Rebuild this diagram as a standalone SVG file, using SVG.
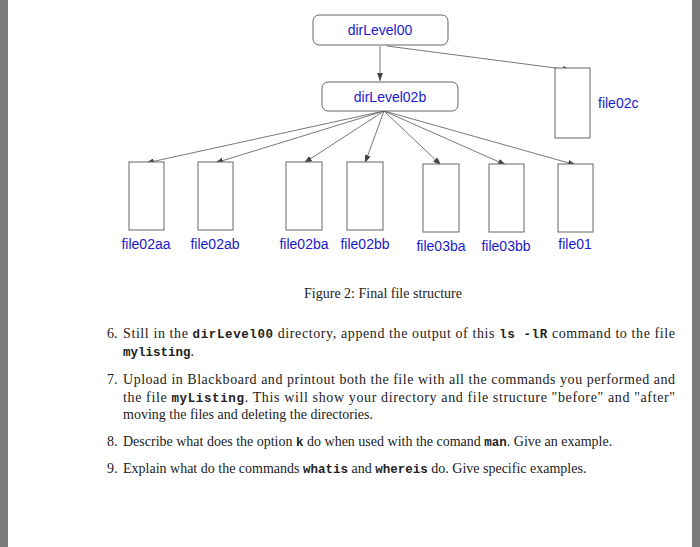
<svg xmlns="http://www.w3.org/2000/svg" width="700" height="547" viewBox="0 0 700 547">
<defs>
<style>
.n{fill:#fff;stroke:#666;stroke-width:1}
.l{font-family:"Liberation Sans",Arial,sans-serif;font-size:14px;fill:#1a1acc}
.c line{stroke:#555;stroke-width:0.8;marker-end:url(#a)}
.t{font-family:"Liberation Serif","Times New Roman",serif;font-size:14px;fill:#222}
.m{font-family:"Liberation Mono",monospace;font-size:12.5px;font-weight:bold}
</style>
<marker id="a" markerWidth="8" markerHeight="6" refX="8" refY="3" orient="auto" markerUnits="userSpaceOnUse"><path d="M0,0 L8,3 L0,6 z" fill="#444"/></marker>
</defs>
<rect width="700" height="547" fill="#fff"/>
<rect x="0" y="0" width="8" height="547" fill="#7a7a7a"/>
<rect x="692" y="0" width="8" height="547" fill="#7a7a7a"/>
<g class="c">
<line x1="380" y1="46" x2="380" y2="81"/>
<line x1="387" y1="46" x2="571" y2="70"/>
<line x1="384" y1="111" x2="146" y2="163"/>
<line x1="384" y1="111" x2="215" y2="163"/>
<line x1="384" y1="111" x2="304" y2="163"/>
<line x1="384" y1="111" x2="365" y2="163"/>
<line x1="384" y1="111" x2="441" y2="165"/>
<line x1="384" y1="111" x2="506" y2="165"/>
<line x1="384" y1="111" x2="576" y2="165"/>
</g>
<g id="dirLevel00"><rect class="n" x="313" y="15" width="135" height="30" rx="6"/><text class="l" x="380" y="35" text-anchor="middle">dirLevel00</text></g>
<g id="dirLevel02b"><rect class="n" x="322" y="82" width="136" height="29" rx="6"/><text class="l" x="390" y="102" text-anchor="middle">dirLevel02b</text></g>
<g id="file02c"><rect class="n" x="555" y="68" width="35" height="70"/><text class="l" x="598" y="108">file02c</text></g>
<g id="file02aa"><rect class="n" x="129" y="162" width="35" height="68"/><text class="l" x="146" y="249" text-anchor="middle">file02aa</text></g>
<g id="file02ab"><rect class="n" x="198" y="162" width="35" height="68"/><text class="l" x="215" y="249" text-anchor="middle">file02ab</text></g>
<g id="file02ba"><rect class="n" x="286" y="162" width="36" height="68"/><text class="l" x="304" y="249" text-anchor="middle">file02ba</text></g>
<g id="file02bb"><rect class="n" x="347" y="162" width="36" height="68"/><text class="l" x="365" y="249" text-anchor="middle">file02bb</text></g>
<g id="file03ba"><rect class="n" x="423" y="164" width="36" height="68"/><text class="l" x="441" y="251" text-anchor="middle">file03ba</text></g>
<g id="file03bb"><rect class="n" x="489" y="164" width="35" height="68"/><text class="l" x="506" y="251" text-anchor="middle">file03bb</text></g>
<g id="file01"><rect class="n" x="558" y="164" width="35" height="68"/><text class="l" x="575" y="249" text-anchor="middle">file01</text></g>
<text class="t" x="383" y="298" text-anchor="middle">Figure 2: Final file structure</text>
<text class="t" x="107" y="338">6.</text>
<text class="t" x="123" y="338" textLength="552" lengthAdjust="spacing">Still in the <tspan class="m">dirLevel00</tspan> directory, append the output of this <tspan class="m">ls -lR</tspan> command to the file</text>
<text class="t" x="123" y="356"><tspan class="m">mylisting</tspan>.</text>
<text class="t" x="107" y="384">7.</text>
<text class="t" x="123" y="384" textLength="552" lengthAdjust="spacing">Upload in Blackboard and printout both the file with all the commands you performed and</text>
<text class="t" x="123" y="402" textLength="552" lengthAdjust="spacing">the file <tspan class="m">myListing</tspan>.  This will show your directory and file structure "before" and "after"</text>
<text class="t" x="123" y="419">moving the files and deleting the directories.</text>
<text class="t" x="107" y="446">8.</text>
<text class="t" x="123" y="446">Describe what does the option <tspan class="m">k</tspan> do when used with the comand <tspan class="m">man</tspan>. Give an example.</text>
<text class="t" x="107" y="473">9.</text>
<text class="t" x="123" y="473">Explain what do the commands <tspan class="m">whatis</tspan> and <tspan class="m">whereis</tspan> do. Give specific examples.</text>
</svg>
